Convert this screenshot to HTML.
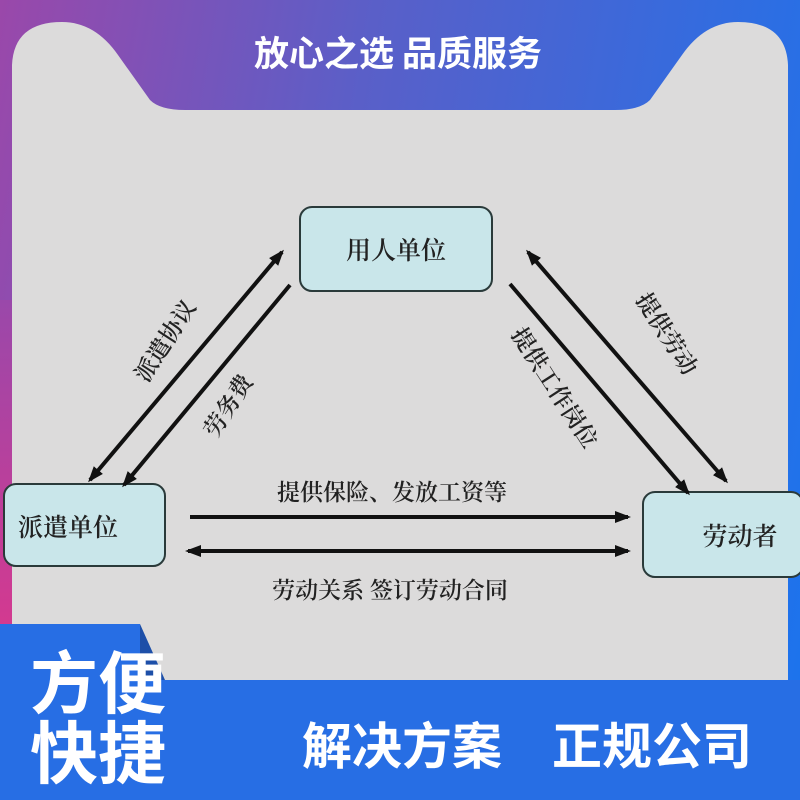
<!DOCTYPE html>
<html><head><meta charset="utf-8"><style>
html,body{margin:0;padding:0;width:800px;height:800px;overflow:hidden}
body{background:linear-gradient(100deg,#9a48aa 0%,#5a5fc8 40%,#1a74ee 100%);position:relative;font-family:"Liberation Sans","Noto Sans CJK SC",sans-serif}
.lg{position:absolute;left:0;top:300px;width:20px;height:400px;background:linear-gradient(180deg,#9a48aa,#e0368a)}
svg{position:absolute;left:0;top:0}
</style></head><body>
<div class="lg"></div>
<svg width="800" height="800" viewBox="0 0 800 800">
<defs><marker id="a" markerWidth="16" markerHeight="14" refX="13" refY="7" orient="auto-start-reverse" markerUnits="userSpaceOnUse"><path d="M0,1 L16,7 L0,13 z" fill="#111"/></marker></defs>
<path d="M12,680 L12,65 Q14,22 62,22 Q95,22 118,55 L150,100 Q160,110 185,110 L615,110 Q640,110 650,100 L682,55 Q705,22 738,22 Q786,22 788,65 L788,680 Z" fill="#dcdbdb"/>
<text x="398" y="66" text-anchor="middle" font-size="35" font-weight="bold" fill="#fff" font-family="'Noto Sans CJK SC',sans-serif">放心之选 品质服务</text>
<g stroke="#2a3a3a" stroke-width="2" fill="#c9e6ea">
<rect x="300" y="207" width="192" height="84" rx="12"/>
<rect x="4" y="484" width="161" height="82" rx="12"/>
<rect x="643" y="492" width="160" height="85" rx="12"/>
</g>
<g font-family="'Noto Serif CJK SC',serif" font-size="25" fill="#222" font-weight="600">
<text x="396" y="259" text-anchor="middle">用人单位</text>
<text x="68" y="536" text-anchor="middle">派遣单位</text>
<text x="740" y="545" text-anchor="middle">劳动者</text>
<text x="392" y="500" text-anchor="middle" font-size="23">提供保险、发放工资等</text>
<text x="390" y="598" text-anchor="middle" font-size="23">劳动关系 签订劳动合同</text>
<text transform="translate(172,345) rotate(-57)" text-anchor="middle" font-size="23">派遣协议</text>
<text transform="translate(235,410) rotate(-57)" text-anchor="middle" font-size="23">劳务费</text>
<text transform="translate(660,338) rotate(57)" text-anchor="middle" font-size="23">提供劳动</text>
<text transform="translate(548,392) rotate(57)" text-anchor="middle" font-size="23">提供工作岗位</text>
</g>
<g stroke="#111" stroke-width="4" fill="none">
<line x1="90" y1="480" x2="282" y2="252" marker-start="url(#a)" marker-end="url(#a)"/>
<line x1="290" y1="285" x2="124" y2="485" marker-end="url(#a)"/>
<line x1="528" y1="252" x2="726" y2="481" marker-start="url(#a)" marker-end="url(#a)"/>
<line x1="510" y1="284" x2="688" y2="493" marker-end="url(#a)"/>
<line x1="190" y1="517" x2="628" y2="517" marker-end="url(#a)"/>
<line x1="188" y1="551" x2="628" y2="551" marker-start="url(#a)" marker-end="url(#a)"/>
</g>
<path d="M140,624 L165,680 L140,680 Z" fill="#1d4fa8"/>
<rect x="140" y="680" width="660" height="120" fill="#276ee4"/>
<rect x="0" y="624" width="140" height="176" fill="#276ee4"/>
<g font-size="50" font-weight="bold" fill="#fff" font-family="'Noto Sans CJK SC',sans-serif" text-anchor="middle">
<text x="402" y="764">解决方案</text>
<text x="652" y="764">正规公司</text>
<text x="98" y="708" font-size="68">方便</text>
<text x="98" y="778" font-size="68">快捷</text>
</g>
</svg>
</body></html>
